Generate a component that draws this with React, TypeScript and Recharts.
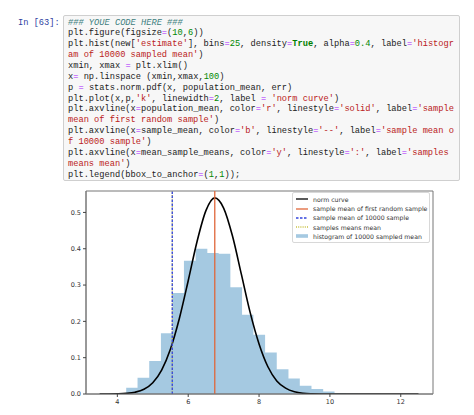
import React from "react";
import {
  Area,
  ComposedChart,
  Line,
  ReferenceArea,
  ReferenceLine,
  XAxis,
  YAxis,
} from "recharts";

// histogram of 10000 sampled means (density), 25 bins
const binEdges = [
  3.92, 4.25, 4.57, 4.9, 5.23, 5.56, 5.88, 6.21, 6.54, 6.86, 7.19, 7.52, 7.84,
  8.17, 8.5, 8.83, 9.15, 9.48, 9.81, 10.13, 10.46, 10.79, 11.11, 11.44, 11.77,
  12.09,
];
const binDensity = [
  0.002, 0.017, 0.045, 0.091, 0.167, 0.278, 0.367, 0.4, 0.388, 0.386, 0.294,
  0.218, 0.163, 0.114, 0.068, 0.043, 0.023, 0.014, 0.007, 0.003, 0.0015, 0.001,
  0.0005, 0, 0.0005,
];

// norm curve
const curveX = [
  3.5, 3.75, 4, 4.25, 4.5, 4.75, 5, 5.25, 5.5, 5.75, 6, 6.25, 6.5, 6.75, 7,
  7.25, 7.5, 7.75, 8, 8.25, 8.5, 8.75, 9, 9.25, 9.5, 9.75, 10, 11, 12, 12.5,
];
const curveY = [
  0, 0.0001, 0.0005, 0.0017, 0.005, 0.013, 0.031, 0.066, 0.124, 0.208, 0.312,
  0.42, 0.505, 0.54, 0.512, 0.435, 0.33, 0.224, 0.138, 0.075, 0.036, 0.016,
  0.006, 0.002, 0.0007, 0.0002, 0.0001, 0, 0, 0,
];

const populationMean = 6.75;
const sampleMean = 5.55;
const meanSampleMeans = 5.55;

const xTicks = [4, 6, 8, 10, 12];
const yTicks = [0, 0.1, 0.2, 0.3, 0.4, 0.5];
const xDomain = [3.115, 12.91];
const yDomain = [0, 0.559];

const codeLines = [
  "### YOUE CODE HERE ###",
  "plt.figure(figsize=(10,6))",
  "plt.hist(new['estimate'], bins=25, density=True, alpha=0.4, label='histogr",
  "am of 10000 sampled mean')",
  "xmin, xmax = plt.xlim()",
  "x= np.linspace (xmin,xmax,100)",
  "p = stats.norm.pdf(x, population_mean, err)",
  "plt.plot(x,p,'k', linewidth=2, label = 'norm curve')",
  "plt.axvline(x=population_mean, color='r', linestyle='solid', label='sample",
  "mean of first random sample')",
  "plt.axvline(x=sample_mean, color='b', linestyle='--', label='sample mean o",
  "f 10000 sample')",
  "plt.axvline(x=mean_sample_means, color='y', linestyle=':', label='samples",
  "means mean')",
  "plt.legend(bbox_to_anchor=(1,1));",
];

const histData = binEdges.map((x, i) => ({ x, density: binDensity[i] ?? 0 }));
const curveData = curveX.map((x, i) => ({ x, p: curveY[i] }));

const tokColors: Record<string, React.CSSProperties> = {
  plain: { color: "#222" },
  str: { color: "#BA2121" },
  num: { color: "#080" },
  kw: { color: "#008000", fontWeight: "bold" },
  op: { color: "#AA22FF" },
  com: { color: "#408080", fontStyle: "italic" },
};

function tokenize(lines: string[]) {
  let inStr = false;
  return lines.map((line) => {
    const out: [string, string][] = [];
    let i = 0;
    while (i < line.length) {
      const ch = line[i];
      if (inStr) {
        const j = line.indexOf("'", i);
        if (j < 0) {
          out.push([line.slice(i), "str"]);
          i = line.length;
        } else {
          out.push([line.slice(i, j + 1), "str"]);
          i = j + 1;
          inStr = false;
        }
      } else if (ch === "'") {
        inStr = true;
        out.push(["'", "str"]);
        i++;
      } else if (ch === "#") {
        out.push([line.slice(i), "com"]);
        i = line.length;
      } else if (/[0-9]/.test(ch)) {
        let j = i;
        while (j < line.length && /[0-9.]/.test(line[j])) j++;
        out.push([line.slice(i, j), "num"]);
        i = j;
      } else if (/[A-Za-z_]/.test(ch)) {
        let j = i;
        while (j < line.length && /[A-Za-z_0-9]/.test(line[j])) j++;
        const w = line.slice(i, j);
        out.push([w, w === "True" ? "kw" : "plain"]);
        i = j;
      } else if (ch === "=") {
        out.push([ch, "op"]);
        i++;
      } else {
        out.push([ch, "plain"]);
        i++;
      }
    }
    return out;
  });
}

const legendItems = [
  { label: "norm curve", kind: "line", color: "#000", dash: "" },
  { label: "sample mean of first random sample", kind: "line", color: "#e0663a", dash: "" },
  { label: "sample mean of 10000 sample", kind: "line", color: "#3344dd", dash: "2.5 1.5" },
  { label: "samples means mean", kind: "line", color: "#c8c040", dash: "1 1.2" },
  { label: "histogram of 10000 sampled mean", kind: "patch", color: "#a5c9e1", dash: "" },
];

const ChartLegend = () => (
  <div
    style={{
      position: "absolute",
      left: 292,
      top: 191.7,
      width: 138,
      height: 51,
      boxSizing: "border-box",
      border: "1px solid #d8d8d8",
      borderRadius: 2,
      background: "rgba(255,255,255,0.85)",
      padding: "2px 0 0 2px",
      fontFamily: "DejaVu Sans",
      fontSize: 6.2,
      color: "#333",
    }}
  >
    {legendItems.map((it) => (
      <div key={it.label} style={{ display: "flex", alignItems: "center", height: 9.25 }}>
        <svg width={14} height={8} style={{ marginRight: 4 }}>
          {it.kind === "line" ? (
            <line x1={1} x2={13} y1={4} y2={4} stroke={it.color} strokeWidth={1.3} strokeDasharray={it.dash} />
          ) : (
            <rect x={1} y={2.2} width={12} height={3.6} fill={it.color} />
          )}
        </svg>
        <span style={{ whiteSpace: "nowrap" }}>{it.label}</span>
      </div>
    ))}
  </div>
);

export default function App() {
  const tokens = tokenize(codeLines);
  const mono = "Liberation Mono";
  return (
    <div style={{ position: "absolute", left: 0, top: 0, width: 474, height: 415, background: "#fff" }}>
      <div
        style={{
          position: "absolute",
          left: 18,
          top: 17.6,
          fontFamily: mono,
          fontSize: 8.7,
          lineHeight: "10.86px",
          color: "#303F9F",
          whiteSpace: "pre",
        }}
      >
        In [63]:
      </div>
      <div
        style={{
          position: "absolute",
          left: 63,
          top: 15,
          width: 397,
          height: 166,
          boxSizing: "border-box",
          background: "#f7f7f7",
          border: "1px solid #cfcfcf",
          borderRadius: 2,
          padding: "1.6px 0 0 4px",
          fontFamily: mono,
          fontSize: 8.7,
          lineHeight: "10.86px",
          whiteSpace: "pre",
          overflow: "hidden",
        }}
      >
        {tokens.map((line, li) => (
          <div key={li} style={{ height: 10.86 }}>
            {line.map(([t, k], ti) => (
              <span key={ti} style={tokColors[k]}>
                {t}
              </span>
            ))}
          </div>
        ))}
      </div>
      <div style={{ position: "absolute", left: 0, top: 180 }}>
        <ComposedChart
          width={474}
          height={235}
          margin={{ top: 11, right: 41, bottom: 1, left: 56 }}
          style={{ fontFamily: "DejaVu Sans" }}
        >
          <XAxis
            dataKey="x"
            type="number"
            domain={xDomain}
            allowDataOverflow
            ticks={xTicks}
            height={20}
            tickSize={3}
            tick={{ fontSize: 6.5, fill: "#333" }}
            tickLine={{ stroke: "#444" }}
            axisLine={{ stroke: "#777" }}
          />
          <YAxis
            type="number"
            domain={yDomain}
            allowDataOverflow
            ticks={yTicks}
            width={30}
            tickSize={3}
            tickFormatter={(v: number) => v.toFixed(1)}
            tick={{ fontSize: 6.5, fill: "#333" }}
            tickLine={{ stroke: "#444" }}
            axisLine={{ stroke: "#777" }}
          />
          <Area
            data={histData}
            dataKey="density"
            type="stepAfter"
            stroke="none"
            fill="#1f77b4"
            fillOpacity={0.4}
            isAnimationActive={false}
            name="histogram of 10000 sampled mean"
          />
          <Line
            data={curveData}
            dataKey="p"
            type="monotone"
            stroke="#000"
            strokeWidth={1.6}
            dot={false}
            isAnimationActive={false}
            name="norm curve"
          />
          <ReferenceLine x={populationMean} stroke="#e0663a" strokeWidth={1.3} />
          <ReferenceLine x={meanSampleMeans} stroke="#c8c040" strokeWidth={1.3} strokeDasharray="1 1.2" />
          <ReferenceLine x={sampleMean} stroke="#3344dd" strokeWidth={1.3} strokeDasharray="2.5 1.5" />
          <ReferenceArea
            x1={xDomain[0]}
            x2={xDomain[1]}
            y1={yDomain[0]}
            y2={yDomain[1]}
            fill="none"
            stroke="#777"
            strokeWidth={1}
          />
        </ComposedChart>
      </div>
      <ChartLegend />
    </div>
  );
}
